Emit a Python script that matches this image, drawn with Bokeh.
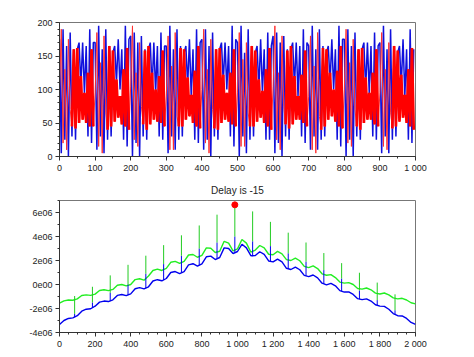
import numpy as np
from bokeh.plotting import figure
from bokeh.layouts import column
from bokeh.models import Range1d, FixedTicker, CustomJSTickFormatter
from bokeh.embed import file_html
from bokeh.resources import INLINE

# ---------------- top panel: two signals (sample step 5) ----------------
sig_step = 5
period = 100
dense_from = 35   # offset in each period where the red signal is dense
red_sig = [
    100,190,20,130,10,175,70, 45,160,42,162,50,120,55,95,50,125,45,160,45,
    95,185,15,140,5,180,65, 40,165,45,158,52,115,58,90,48,130,45,162,40,
    105,195,25,125,15,170,75, 48,158,40,165,48,125,55,100,52,120,50,158,45,
    90,180,10,135,10,185,60, 45,162,45,160,55,118,60,92,50,128,45,165,42,
    100,190,20,130,5,175,70, 42,160,40,162,50,122,55,95,52,125,48,160,45,
    95,185,15,145,15,170,65, 45,165,45,158,52,115,58,98,50,130,45,162,40,
    105,195,25,125,10,180,75, 48,158,42,165,48,120,55,90,55,122,50,158,45,
    90,180,10,135,5,185,60, 40,162,45,160,55,125,60,100,52,128,45,165,42,
    100,190,20,140,15,175,70, 45,160,40,162,50,118,55,95,55,125,48,160,45,
    95,185,15,130,10,170,65, 42,165,45,158,52,122,58,92,50,130,45,162,40,
]
blue_sig = [
    175,5,190,25,165,0,185, 30,160,25,160,170,105,170,95,165,30,190,20,170,
    170,10,195,30,160,5,190, 25,165,30,155,165,110,175,100,160,25,195,15,175,
    180,0,185,20,170,0,180, 30,160,25,160,170,100,170,95,165,30,185,25,165,
    165,5,195,30,160,10,190, 25,165,30,155,165,105,175,90,160,25,190,20,170,
    175,10,190,25,165,0,185, 30,160,25,160,170,110,170,100,165,30,195,15,175,
    170,0,195,30,155,5,190, 25,165,30,155,165,100,175,95,160,25,185,25,165,
    180,5,185,20,170,0,180, 30,160,25,160,170,105,170,90,165,30,190,20,170,
    165,10,195,30,160,10,190, 25,165,30,155,165,110,175,100,160,25,195,15,175,
    175,0,190,25,165,0,185, 30,160,25,160,170,100,170,95,165,30,185,25,165,
    170,5,195,30,160,5,190, 25,165,30,155,165,105,175,90,160,25,190,20,160,
]

# ---------------- bottom panel: cross-correlations (x 1e6) ----------------
lag_step = 25
blue_xc = [
    -3.33,-3.00,-2.83,-2.78,-2.60,-2.22,-2.06,-2.02,-1.81,-1.47,-1.38,-1.42,-1.28,-0.91,-0.83,-0.93,
    -0.78,-0.35,-0.26,-0.36,-0.19,0.29,0.40,0.31,0.50,1.00,1.08,0.91,1.08,1.64,1.73,1.53,
    1.72,2.31,2.36,2.08,2.25,3.05,3.00,2.58,2.75,
    3.35,3.05,2.40,2.42,2.73,2.51,1.96,1.88,2.12,1.88,1.35,1.25,1.45,1.23,0.76,
    0.66,0.79,0.55,0.11,-0.03,0.10,-0.11,-0.51,-0.63,-0.62,-0.83,-1.18,-1.26,-1.20,-1.38,-1.69,
    -1.80,-1.82,-2.06,-2.42,-2.60,-2.62,-2.83,-3.16,-3.33,
]
green_xc = [
    -1.56,-1.36,-1.29,-1.31,-1.20,-0.92,-0.86,-0.91,-0.80,-0.50,-0.44,-0.51,-0.41,-0.06,0.00,-0.12,
    0.00,0.41,0.48,0.36,0.71,1.17,1.28,1.17,1.35,1.85,1.93,1.76,1.93,2.46,2.50,2.27,
    2.42,3.05,3.02,2.67,2.77,3.60,3.45,2.81,2.97,
    3.75,3.45,2.70,2.87,3.25,3.05,2.52,2.48,2.76,2.55,2.07,2.00,2.20,1.98,1.51,
    1.41,1.55,1.33,0.89,0.77,0.82,0.58,0.20,0.11,0.16,0.00,-0.33,-0.39,-0.29,-0.44,-0.72,
    -0.79,-0.71,-0.86,-1.12,-1.20,-1.15,-1.29,-1.52,-1.62,
]
spike_lag = [85,185,285,385,485,585,685,785,885,985,1085,1185,1285,1385,1485,1585,1685,1785,1885]
spike_foot = [-2.72,-1.95,-1.38,-0.88,-0.30,0.38,0.98,1.60,2.15,2.65,2.35,1.93,1.30,0.72,0.05,-0.55,-1.22,-1.74,-2.50]
blue_spike = [-2.45,-1.50,-0.70,0.00,0.90,1.70,2.40,3.00,3.50,4.00,3.60,3.20,2.60,1.90,1.20,0.50,-0.50,-1.30,-2.15]
green_spike = [-0.96,-0.19,0.76,1.64,2.40,3.28,4.10,4.92,5.82,6.50,6.09,5.22,4.32,3.50,2.62,1.78,0.98,0.16,-0.82]
peak_lag = [985]
peak_val = [6.64]
title_text = "Delay is -15"

FONT = "Liberation Sans"
AX = "#333333"

x_fmt = CustomJSTickFormatter(code="""
const t = Math.round(tick);
if (Math.abs(t) >= 1000) {
  const th = Math.floor(t / 1000);
  const r = Math.abs(t % 1000);
  return th + ' ' + String(r).padStart(3, '0');
}
return String(t);
""")
e_fmt = CustomJSTickFormatter(code="""
if (Math.abs(tick) < 1e-9) return '0e00';
const e = Math.floor(Math.log10(Math.abs(tick)) + 1e-9);
const m = Math.round(tick / Math.pow(10, e));
const es = (e < 0 ? '-' : '') + String(Math.abs(e)).padStart(2, '0');
return m + 'e' + es;
""")


def style(p):
    p.xgrid.visible = False
    p.ygrid.visible = False
    p.outline_line_color = "#777777"
    p.background_fill_color = "white"
    p.border_fill_color = "white"
    for ax in (p.xaxis[0], p.yaxis[0]):
        ax.axis_line_color = AX
        ax.major_tick_line_color = AX
        ax.minor_tick_line_color = AX
        ax.major_tick_out = 4
        ax.major_tick_in = 0
        ax.minor_tick_out = 2
        ax.minor_tick_in = 0
        ax.major_label_text_font = FONT
        ax.major_label_text_font_size = "9px"
        ax.major_label_text_color = "#222222"
    p.xaxis[0].major_label_standoff = 2
    p.yaxis[0].major_label_standoff = 3


W = 470
# top figure
p1 = figure(width=W, height=177, output_backend="svg", toolbar_location=None,
            x_range=Range1d(0, 1000), y_range=Range1d(0, 200),
            min_border_left=59, min_border_right=W - 59 - 356, min_border_top=22, min_border_bottom=21)
style(p1)
p1.xaxis[0].ticker = FixedTicker(ticks=list(range(0, 1001, 100)), minor_ticks=list(range(0, 1001, 50)))
p1.yaxis[0].ticker = FixedTicker(ticks=list(range(0, 201, 50)), minor_ticks=list(range(0, 201, 10)))
p1.xaxis[0].formatter = x_fmt

xs_sig = np.arange(len(blue_sig)) * sig_step
red_arr = np.array(red_sig, dtype=float)
dense = (xs_sig % period) >= dense_from
red_dense = np.where(dense, red_arr, np.nan)

p1.line(xs_sig, blue_sig, line_color="#1010dd", line_width=1.5)
p1.line(xs_sig, red_arr, line_color="#ff3030", line_width=1.0)
p1.line(xs_sig, red_dense, line_color="#ff0000", line_width=2.7)

# bottom figure
p2 = figure(width=W, height=174, output_backend="svg", toolbar_location=None,
            x_range=Range1d(0, 2000), y_range=Range1d(-4e6, 7e6),
            min_border_left=59, min_border_right=W - 59 - 356, min_border_top=23, min_border_bottom=16,
            title=title_text)
style(p2)
p2.title.align = "center"
p2.title.text_font = FONT
p2.title.text_font_size = "10px"
p2.title.text_font_style = "normal"
p2.title.text_color = "#222222"
p2.title.standoff = 9
p2.xaxis[0].ticker = FixedTicker(ticks=list(range(0, 2001, 200)), minor_ticks=list(range(0, 2001, 50)))
p2.yaxis[0].ticker = FixedTicker(ticks=[v * 1e6 for v in range(-4, 7, 2)], minor_ticks=[v * 1e6 for v in range(-4, 8)])
p2.xaxis[0].formatter = x_fmt
p2.yaxis[0].formatter = e_fmt

lags = np.arange(len(blue_xc)) * lag_step
M = 1e6
p2.line(lags, np.array(blue_xc) * M, line_color="#0000ee", line_width=1.4)
p2.line(lags, np.array(green_xc) * M, line_color="#22ee22", line_width=1.4)
p2.segment(x0=spike_lag, y0=np.array(spike_foot) * M, x1=spike_lag, y1=np.array(blue_spike) * M,
           line_color="#0000ee", line_width=1.0)
p2.segment(x0=spike_lag, y0=np.array(blue_spike) * M, x1=spike_lag, y1=np.array(green_spike) * M,
           line_color="#22cc22", line_width=1.0)
p2.scatter(peak_lag, np.array(peak_val) * M, size=6, fill_color="#ff0000", line_color="#ff0000")

layout = column(p1, p2)
open("out.html", "w").write(file_html(layout, INLINE))
